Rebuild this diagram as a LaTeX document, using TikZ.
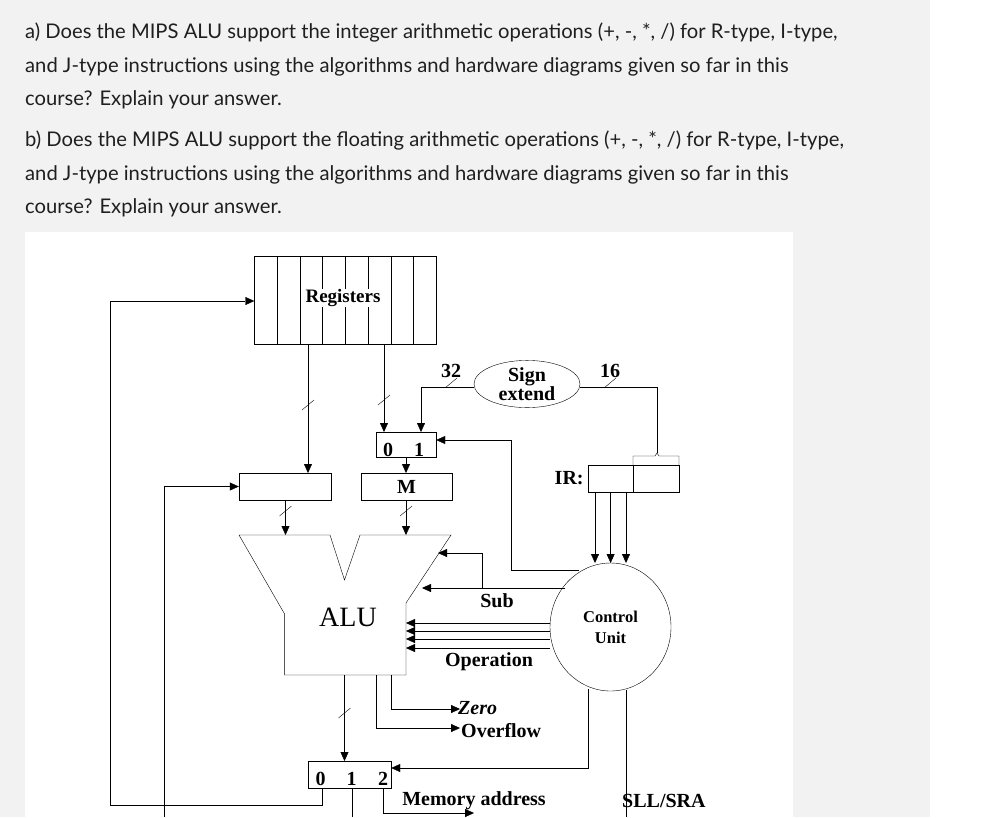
\documentclass[tikz,border=0pt]{standalone}
\usepackage{fontspec}
\setmainfont{Liberation Serif}
\newfontfamily\hdfont{Lato}
\usetikzlibrary{calc,positioning,arrows,arrows.meta,backgrounds,shapes.geometric}

\begin{document}
\begin{tikzpicture}[x=1pt,y=-1pt]

\tikzstyle{mybox} = [draw, thin, rectangle, inner sep=0pt]
\tikzstyle{myarr} = [-{Triangle[length=9pt,width=8pt]}, thin]
\tikzstyle{mylbl} = [font=\bfseries\fontsize{20}{20}\selectfont, inner sep=0pt]
\tikzstyle{hd} = [anchor=base west, inner sep=0pt, font=\hdfont\fontsize{20.2}{20}\selectfont, text=black!88]

% page and panel
\fill[black!5] (0,0) rectangle (930,817);
\fill[white] (930,0) rectangle (981,817);
\fill[white] (25,232) rectangle (793,817);
\useasboundingbox (0,0) rectangle (981,817);

\node[hd] (qa1) at (25,38) {a) Does the MIPS ALU support the integer arithmetic operations (+, -, *, /) for R-type, I-type,};
\node[hd] (qa2) at (25,72) {and J-type instructions using the algorithms and hardware diagrams given so far in this};
\node[hd] (qa3) at (25,105) {course? Explain your answer.};
\node[hd] (qb1) at (25,146) {b) Does the MIPS ALU support the floating arithmetic operations (+, -, *, /) for R-type, I-type,};
\node[hd] (qb2) at (25,180) {and J-type instructions using the algorithms and hardware diagrams given so far in this};
\node[hd] (qb3) at (25,213) {course? Explain your answer.};

% registers
\node (regs) [mybox, minimum width=182, minimum height=88] at (345.5,300) {};
\foreach \i in {1,...,7}
  \draw ($(regs.north west)+(\i*22.75,0)$) -- ($(regs.south west)+(\i*22.75,0)$);
\node [mylbl, fill=white, font=\bfseries\fontsize{19}{19}\selectfont] at (343,298) {Registers};

% muxes and latches
\node (muxa) [mybox, minimum width=60, minimum height=25] at (406,444.5) {};
\node [mylbl] at (388,450) {0};
\node [mylbl] at (419,450) {1};
\node (boxa) [mybox, minimum width=92, minimum height=27] at (285,486.5) {};
\node (boxm) [mybox, minimum width=91, minimum height=27, mylbl] at (406.5,486.5) {M};
\node (muxb) [mybox, minimum width=83, minimum height=27] at (349.5,774.5) {};
\node [mylbl] at (320.5,779) {0};
\node [mylbl] at (351.7,779) {1};
\node [mylbl] at (383,779) {2};

% sign extend and IR
\node (sext) [draw, thin, ellipse, minimum width=106, minimum height=40, inner sep=0pt,
  font=\bfseries\fontsize{20}{15}\selectfont, align=center] at (527,384) {Sign\\extend};
\node (ir) [mybox, minimum width=91, minimum height=27] at (633.5,478.5) {};
\draw (633,465) -- (633,492);
\node [mylbl, left=4pt of ir] {IR:};
\draw (633,465) -- (633,456) -- (655,456) -- (657,453) -- (659,456) -- (679,456) -- (679,465);

% ALU
\draw (239,535) -- (330,535) -- (344.5,580) -- (360,535) -- (451,535) -- (406,603)
  -- (406,675) -- (284.6,675) -- (284.6,614) -- cycle;
\node (alu) [font=\fontsize{28}{28}\selectfont] at (348,617) {ALU};

% control unit
\node (cu) [draw, thin, ellipse, minimum width=121, minimum height=128, align=center,
  font=\bfseries\fontsize{16.5}{21}\selectfont] at (610.5,627) {Control\\Unit};

% datapath wires
\draw[myarr] (308,344) -- (308,473);
\draw[myarr] (384,344) -- (384,432);
\draw[myarr] (sext.west |- 0,387) -- (421,387) -- (421,432);
\draw (sext.east |- 0,387) -- (657,387) -- (657,453);
\node [mylbl] at (451,371) {32};
\node [mylbl] at (610,371) {16};
\draw[myarr] (406,457) -- (406,473);
\draw[myarr] (285.5,500) -- (285.5,535);
\draw[myarr] (406,500) -- (406,535);
\draw[myarr] (110,805) -- (110,301) -- (regs.west |- 0,301);
\draw[myarr] (164,817) -- (164,486.5) -- (boxa.west);
\draw[myarr] (579,570) -- (511,570) -- (511,440) -- (muxa.east |- 0,440);
\foreach \x in {595,610.6,626}
  \draw[myarr] (\x,492) -- (\x,563);

% control lines to ALU
\draw[myarr] (565.4,588) -- (422,588);
\draw[myarr] (482,588) -- (482,553) -- (438,553);
\node [mylbl] at (497,601) {Sub};
\foreach \y in {623,631,639,648}
  \draw[myarr] (550,\y) -- (406,\y);
\node [mylbl] at (489,662) {Operation};

% ALU outputs
\draw[myarr] (344.5,675) -- (344.5,761);
\draw[myarr] (391.6,675) -- (391.6,709) -- (460,709);
\draw[myarr] (375.7,675) -- (375.7,728) -- (460,728);
\node [mylbl, anchor=west, font=\bfseries\itshape\fontsize{20}{20}\selectfont] at (458,708) {Zero};
\node [mylbl, anchor=west] at (461,731) {Overflow};
\draw[myarr] (588,689) -- (588,768) -- (muxb.east |- 0,768);
\draw (321.7,788) -- (321.7,805) -- (110,805);
\draw (351.7,788) -- (351.7,817);
\draw[myarr] (383,788) -- (383,813) -- (474,813);
\node [mylbl] at (474,801) {Memory address};
\draw (625.8,690) -- (625.8,817);
\node [mylbl, anchor=west] at (622,801) {SLL/SRA};

% bus width slashes
\foreach \p in {(308,405),(384,400),(451,383),(610,383),(285.5,511),(406,511),(344.5,713)}
  \draw \p ++(-6,5) -- ++(12,-10);

\end{tikzpicture}
\end{document}
